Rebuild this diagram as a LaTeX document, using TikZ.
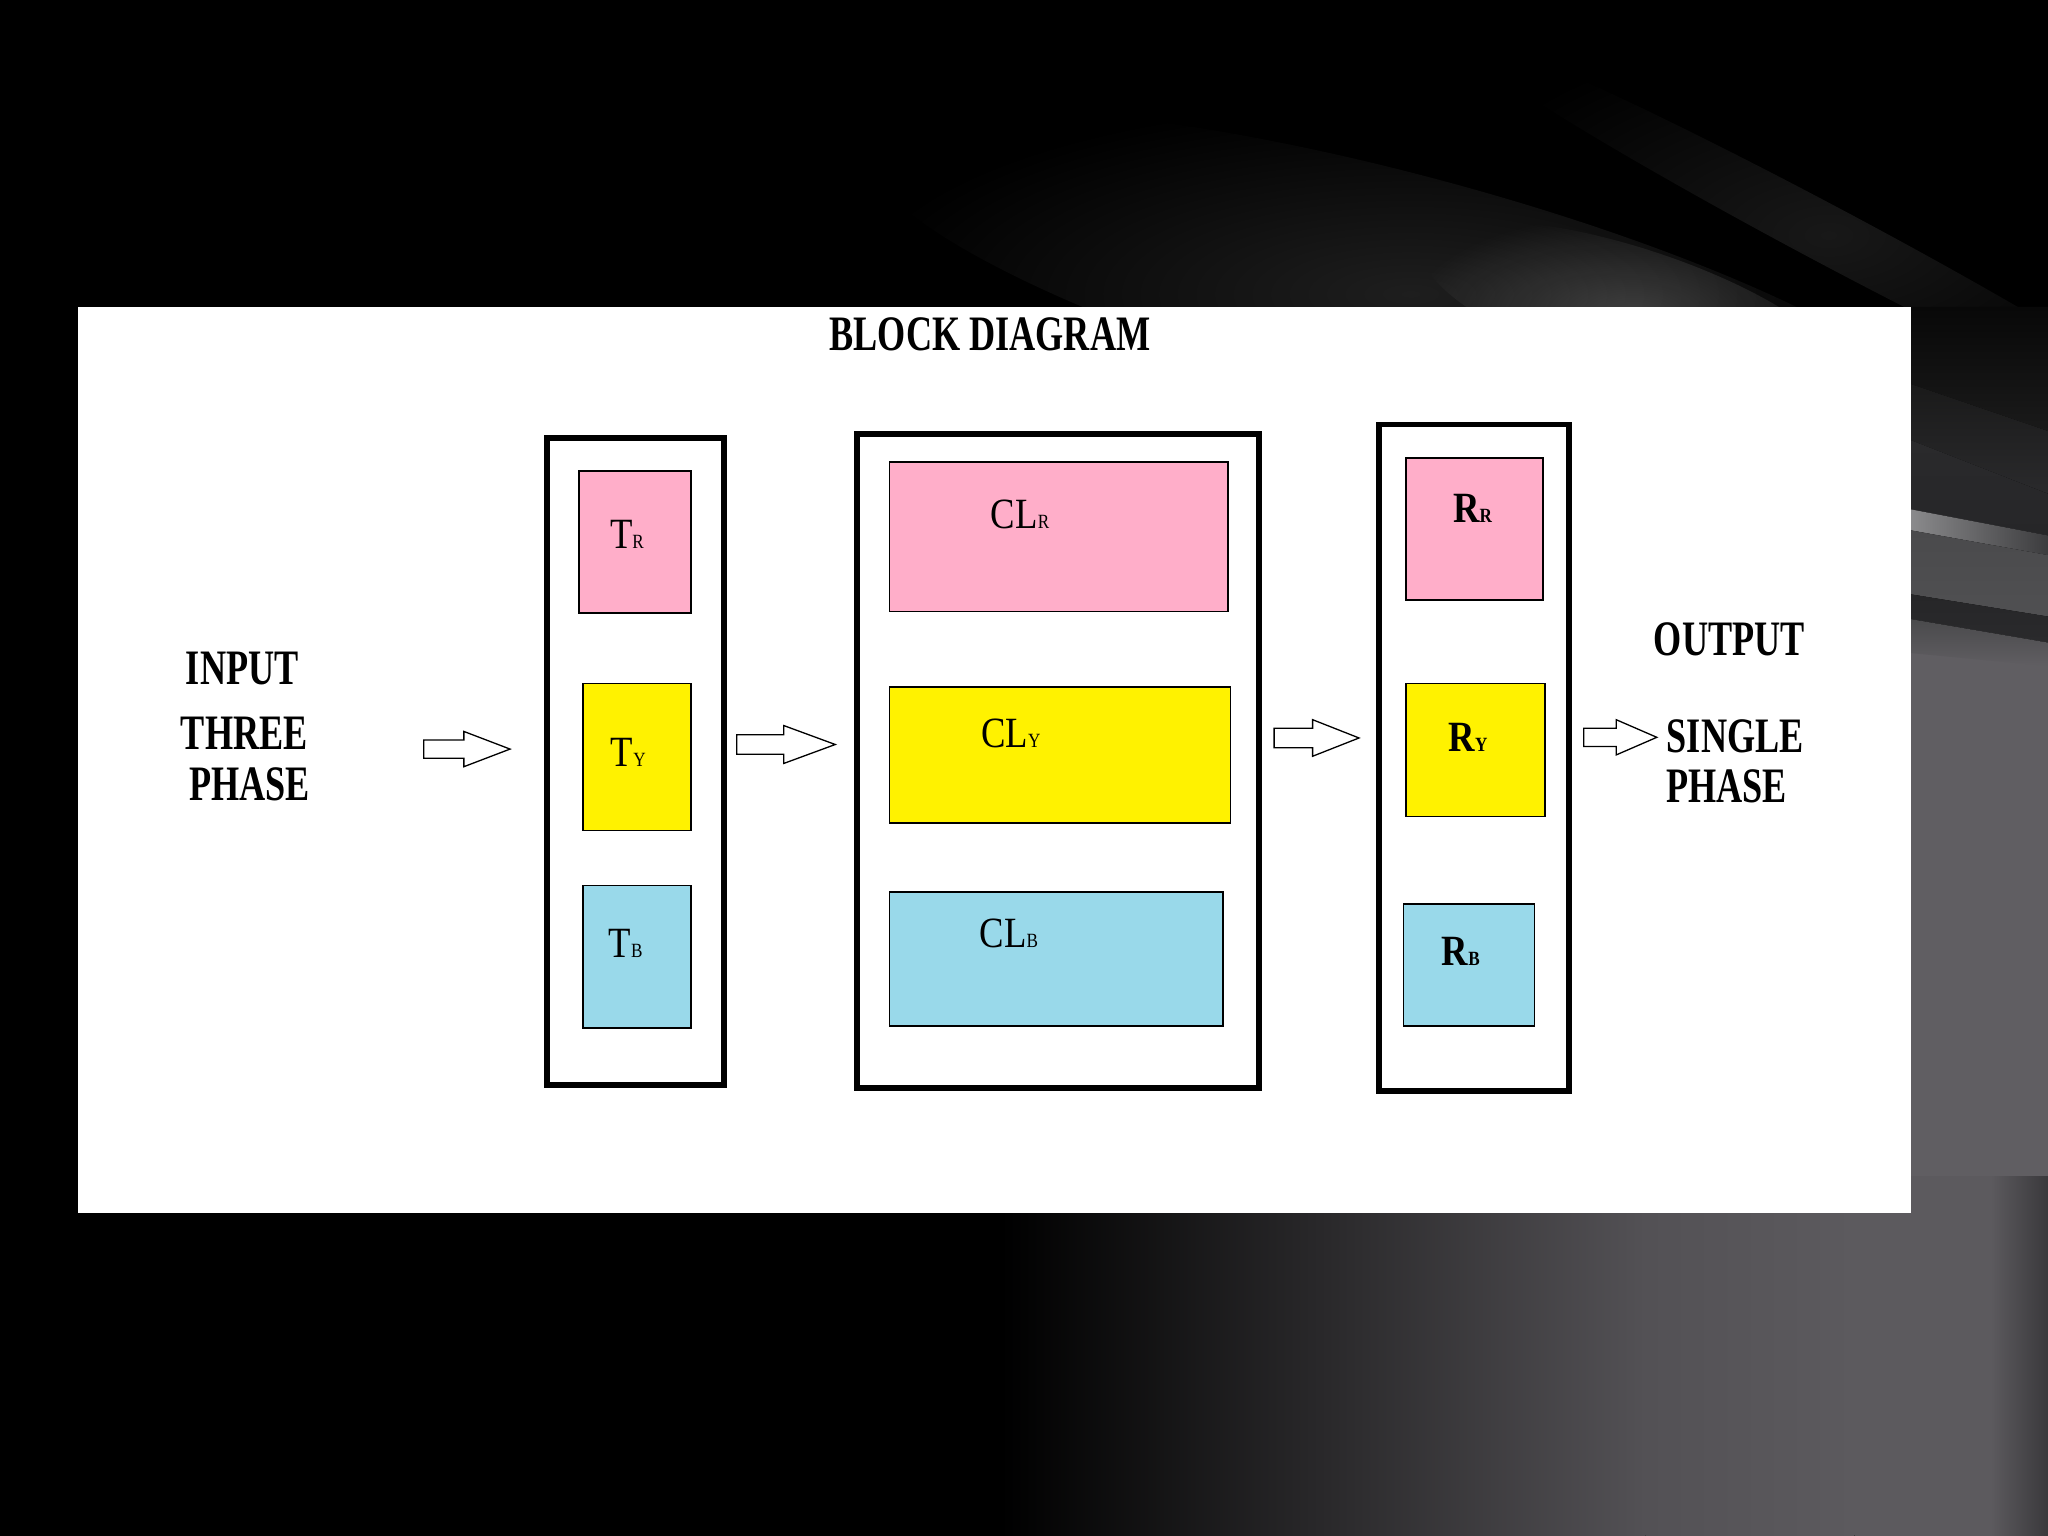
\documentclass[tikz,border=0pt]{standalone}
\usepackage{fontspec}
\setmainfont{Liberation Serif}
\newfontfamily\hdfont[FakeStretch=0.73]{Liberation Serif}
\newfontfamily\lbfont[FakeStretch=0.85]{Liberation Serif}
\usetikzlibrary{shapes.arrows}
\definecolor{pinkc}{HTML}{FFAEC9}
\definecolor{yelc}{HTML}{FFF200}
\definecolor{bluec}{HTML}{99D9EA}
\definecolor{bgA}{HTML}{535155}
\definecolor{bgB}{HTML}{5C5A5E}
\definecolor{bgC}{HTML}{3A393C}
\definecolor{bgD}{HTML}{605E62}
\definecolor{glowA}{HTML}{1E1E1E}
\definecolor{glowB}{HTML}{2E2E2E}
\definecolor{beamc}{HTML}{181818}
\definecolor{sA}{HTML}{080808}
\definecolor{sB}{HTML}{1A1A1A}
\definecolor{sC}{HTML}{2A2A2C}
\definecolor{sD}{HTML}{505052}
\definecolor{sE}{HTML}{8A8A8C}
\definecolor{sF}{HTML}{3C3C3E}
\definecolor{sG}{HTML}{4A4A4C}
\definecolor{sH}{HTML}{262628}
\newcommand\sbx[1]{{\fontsize{4.4pt}{5pt}\selectfont #1}}
\tikzset{
  outerbox/.style={draw=black, line width=0.45mm, inner sep=0pt, fill=white},
  innerbox/.style={draw=black, line width=0.12mm, inner sep=0pt},
  hd/.style={inner sep=0pt, anchor=base, font=\hdfont\bfseries\fontsize{10.8pt}{12pt}\selectfont},
  lab/.style={inner sep=0pt, anchor=base, font=\lbfont\fontsize{9.4pt}{10pt}\selectfont},
  labb/.style={lab, font=\lbfont\bfseries\fontsize{9.4pt}{10pt}\selectfont},
  barrow/.style={single arrow, draw=black, fill=white, line width=0.1mm, inner sep=0pt,
    single arrow head indent=0pt, anchor=tail}
}
\begin{document}
\begin{tikzpicture}[x=0.1mm,y=-0.1mm]
\useasboundingbox (0,0) rectangle (1568,1176);
% ---------- background ----------
\fill[black] (0,0) rectangle (1568,1176);
\begin{scope}[blend mode=screen]
  \begin{scope}[shift={(1080,225)}, rotate=-15]
    \shade[inner color=glowA, outer color=black] (0,0) ellipse (430 and 90);
  \end{scope}
  \begin{scope}[shift={(1250,240)}, rotate=-18]
    \shade[inner color=glowB, outer color=black] (0,0) ellipse (170 and 50);
  \end{scope}
  \begin{scope}[shift={(1400,180)}, rotate=-28]
    \shade[inner color=beamc, outer color=black] (0,0) ellipse (330 and 22);
  \end{scope}
\end{scope}
% bottom gradient
\shade[left color=black, right color=bgA] (766,900) rectangle (1260,1176);
\shade[left color=bgA, right color=bgB] (1260,900) rectangle (1420,1176);
\fill[bgB] (1420,900) rectangle (1524,1176);
\shade[left color=bgB, right color=bgC] (1524,900) rectangle (1568,1176);
% right strip (swirl)
\fill[bgD] (1463,500) rectangle (1568,900);
\shade[top color=sA, bottom color=sB] (1463,235) -- (1568,235) -- (1568,330) -- (1463,294) -- cycle;
\shade[top color=sB, middle color=sD, bottom color=sC] (1463,294) -- (1568,330) -- (1568,378) -- (1463,337) -- cycle;
\shade[top color=sC, bottom color=sH] (1463,337) -- (1568,378) -- (1568,410) -- (1463,390) -- cycle;
\shade[left color=sE, right color=sF] (1463,390) -- (1568,410) -- (1568,425) -- (1463,406) -- cycle;
\shade[top color=sG, bottom color=sD] (1463,406) -- (1568,425) -- (1568,472) -- (1463,455) -- cycle;
\shade[top color=sH, bottom color=sC] (1463,455) -- (1568,472) -- (1568,492) -- (1463,474) -- cycle;
\shade[top color=sG, bottom color=bgD] (1463,474) -- (1568,492) -- (1568,510) -- (1463,500) -- cycle;
% ---------- panel ----------
\fill[white] (60,235) rectangle (1463,929);
% ---------- title and texts ----------
\node[hd] (title) at (758,268) {BLOCK DIAGRAM};
\node[hd] (in1) at (185.5,524) {INPUT};
\node[hd] (in2) at (187,574) {THREE};
\node[hd] (in3) at (191,612.5) {PHASE};
\node[hd] (out1) at (1324,501.5) {OUTPUT};
\node[hd] (out2) at (1328.5,576.5) {SINGLE};
\node[hd] (out3) at (1322,614.5) {PHASE};
% ---------- outer blocks ----------
\node[outerbox, minimum width=13.5mm, minimum height=49.6mm] (tblock) at (486.5,583) {};
\node[outerbox, minimum width=30.8mm, minimum height=50.1mm] (clblock) at (810,582.5) {};
\node[outerbox, minimum width=14.55mm, minimum height=51mm] (rblock) at (1128.25,580) {};
% ---------- inner boxes ----------
\node[innerbox, fill=pinkc, minimum width=8.56mm, minimum height=10.86mm] (tr) at (486.2,415.1) {};
\node[innerbox, fill=yelc, minimum width=8.26mm, minimum height=11.27mm] (ty) at (487.7,579.65) {};
\node[innerbox, fill=bluec, minimum width=8.26mm, minimum height=10.9mm] (tb) at (487.7,732.5) {};
\node[innerbox, fill=pinkc, minimum width=25.9mm, minimum height=11.45mm] (clr) at (810.5,410.95) {};
\node[innerbox, fill=yelc, minimum width=26.1mm, minimum height=10.4mm] (cly) at (811.5,578) {};
\node[innerbox, fill=bluec, minimum width=25.53mm, minimum height=10.24mm] (clb) at (808.65,734.2) {};
\node[innerbox, fill=pinkc, minimum width=10.48mm, minimum height=10.87mm] (rr) at (1129,405.05) {};
\node[innerbox, fill=yelc, minimum width=10.64mm, minimum height=10.19mm] (ry) at (1129.8,574.25) {};
\node[innerbox, fill=bluec, minimum width=10.03mm, minimum height=9.36mm] (rb) at (1124.85,738.7) {};
% ---------- labels ----------
\node[lab] (trl) at (480,420) {T\sbx{R}};
\node[lab] (tyl) at (481,586.5) {T\sbx{Y}};
\node[lab] (tbl) at (479,733) {T\sbx{B}};
\node[lab] (clrl) at (781,404.5) {CL\sbx{R}};
\node[lab] (clyl) at (774,572) {CL\sbx{Y}};
\node[lab] (clbl) at (772.5,725.6) {CL\sbx{B}};
\node[labb] (rrl) at (1127.5,400) {R\sbx{R}};
\node[labb] (ryl) at (1124,575) {R\sbx{Y}};
\node[labb] (rbl) at (1118.5,739) {R\sbx{B}};
% ---------- block arrows ----------
\node[barrow, minimum height=6.6mm, minimum width=2.6mm, text height=1.3mm,
  single arrow head extend=0.65mm, single arrow tip angle=41.8] (a1) at (324,573.5) {};
\node[barrow, minimum height=7.55mm, minimum width=2.8mm, text height=1.4mm,
  single arrow head extend=0.7mm, single arrow tip angle=40.4] (a2) at (563.5,570) {};
\node[barrow, minimum height=6.5mm, minimum width=2.7mm, text height=1.4mm,
  single arrow head extend=0.65mm, single arrow tip angle=43] (a3) at (975,565) {};
\node[barrow, minimum height=5.6mm, minimum width=2.6mm, text height=1.3mm,
  single arrow head extend=0.65mm, single arrow tip angle=46.9] (a4) at (1212,564.5) {};
\end{tikzpicture}
\end{document}
